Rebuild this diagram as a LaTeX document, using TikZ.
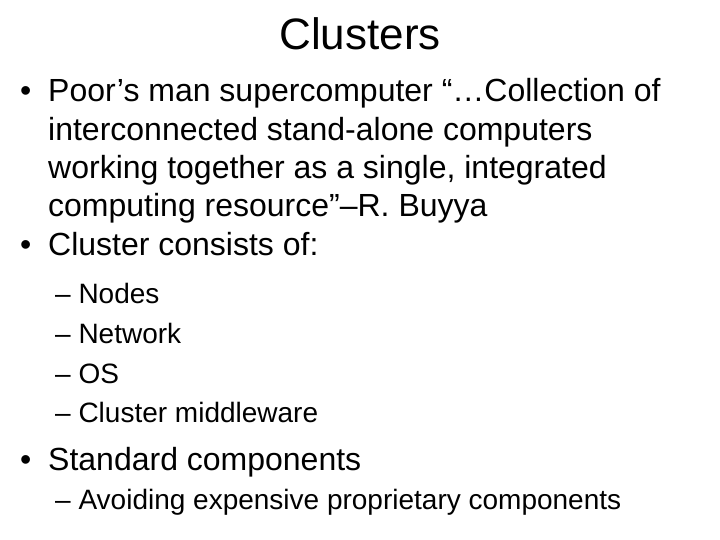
\documentclass[tikz,border=0pt]{standalone}
\usepackage{fontspec}
\setmainfont{Liberation Sans}
\begin{document}
\begin{tikzpicture}[x=1pt,y=-1pt,
 big/.style={anchor=base west,inner sep=0pt,font=\fontsize{32}{38}\selectfont},
 small/.style={anchor=base west,inner sep=0pt,font=\fontsize{28}{34}\selectfont}]
\useasboundingbox[fill=white] (0,0) rectangle (720,540);
\node[anchor=base,inner sep=0pt,font=\fontsize{44}{52}\selectfont] (title) at (360,50) {Clusters};
\node[big] (b1) at (20,102) {•};
\node[big] (l1) at (48,102) {Poor’s man supercomputer “…Collection of};
\node[big] (l2) at (48,141) {interconnected stand-alone computers};
\node[big] (l3) at (48,179) {working together as a single, integrated};
\node[big] (l4) at (48,217) {computing resource”--R. Buyya};
\node[big] (b2) at (20,255) {•};
\node[big] (l5) at (48,255) {Cluster consists of:};
\node[small] (s1) at (55,303) {– Nodes};
\node[small] (s2) at (55,343) {– Network};
\node[small] (s3) at (55,383) {– OS};
\node[small] (s4) at (55,422) {– Cluster middleware};
\node[big] (b3) at (20,470) {•};
\node[big] (l6) at (48,470) {Standard components};
\node[small] (s5) at (55,509) {– Avoiding expensive proprietary components};
\end{tikzpicture}
\end{document}
